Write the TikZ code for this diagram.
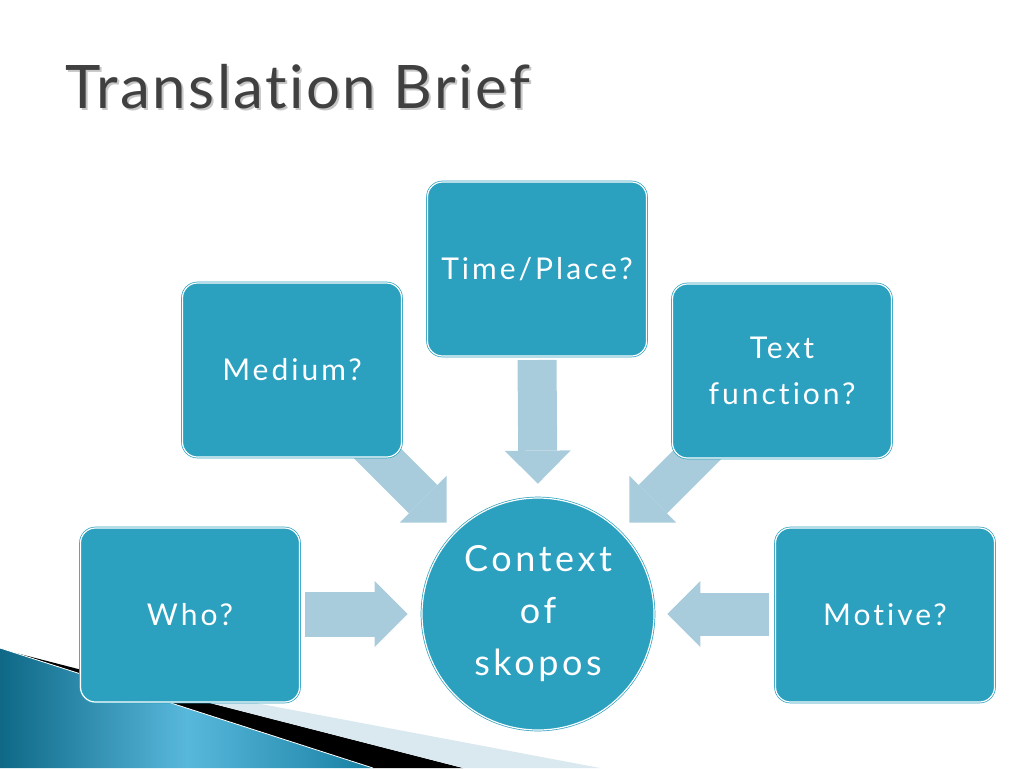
\documentclass[tikz,border=0pt]{standalone}
\usepackage{fontspec}
\setmainfont{Lato}[Ligatures={NoCommon}]
\newfontfamily\titlefont{Lato}[Ligatures={NoCommon}, LetterSpace=4]
\newfontfamily\boxfont{Lato}[Ligatures={NoCommon}, LetterSpace=10]
\usetikzlibrary{arrows.meta,calc,shapes}
\definecolor{boxteal}{RGB}{43,160,191}
\definecolor{arrowblue}{RGB}{169,204,220}
\definecolor{titlegray}{RGB}{64,64,64}
\definecolor{bandlight}{RGB}{218,232,240}
\definecolor{swooshdark}{RGB}{14,104,134}
\definecolor{swooshlight}{RGB}{88,184,220}
\definecolor{swooshmid}{RGB}{24,128,162}

\begin{document}
\begin{tikzpicture}[
    x=1pt,
    y=-1pt,
    box/.style={draw=boxteal, double=white, double distance=1.2pt, line width=0.7pt,
        fill=boxteal, rounded corners=15pt, minimum width=219pt, minimum height=174pt,
        text=white, align=center, font=\boxfont\fontsize{30}{46}\selectfont},
    hub/.style={circle, draw=boxteal, double=white, double distance=1.2pt, line width=0.7pt,
        fill=boxteal, minimum size=232pt, inner sep=0pt, text=white, align=center,
        font=\boxfont\fontsize{36}{52}\selectfont},
    blockarrow/.style={draw=arrowblue, line width=#1,
        -{Triangle[length=33pt, width=66pt, line width=0pt]}}
]
    \useasboundingbox (0,0) rectangle (1024,768);

    % Swoosh in the corner
    \shade[left color=swooshdark, right color=swooshmid, middle color=swooshlight]
        (0,648) -- (373,768) -- (0,768) -- cycle;
    \fill[black] (16,653) -- (463,768) -- (373,768) -- cycle;
    \fill[bandlight] (81,670) -- (600,768) -- (463,768) -- cycle;
    \draw[white, line width=0.8pt] (0,648) -- (373,768);

    % Title with a soft shadow
    \node[anchor=base west, text=gray!45, font=\titlefont\fontsize{60}{60}\selectfont] at (64,110) {Translation Brief};
    \node[anchor=base west, text=titlegray, font=\titlefont\fontsize{60}{60}\selectfont] (title) at (62,108) {Translation Brief};

    % Centre
    \node[hub] (ctx) at (538,614) {Context\\of\\skopos};

    % Arrows into the centre
    \draw[blockarrow=39pt, shorten <=3pt, shorten >=14pt] (537,357) -- (ctx.north);
    \draw[blockarrow=45pt, shorten <=4pt, shorten >=14pt] (301,614) -- (ctx.west);
    \draw[blockarrow=43pt, shorten <=5pt, shorten >=13pt] (774,614) -- (ctx.east);
    \draw[blockarrow=40pt, shorten >=13pt] (365,441) -- (ctx.135);
    \draw[blockarrow=40pt, shorten >=13pt] (711,441) -- (ctx.45);

    % Question boxes
    \node[box] (time) at (537,269) {Time/Place?};
    \node[box] (medium) at (292,370) {Medium?};
    \node[box] (function) at (782,371) {Text\\function?};
    \node[box] (who) at (190,615) {Who?};
    \node[box] (motive) at (885,615) {Motive?};
\end{tikzpicture}
\end{document}
